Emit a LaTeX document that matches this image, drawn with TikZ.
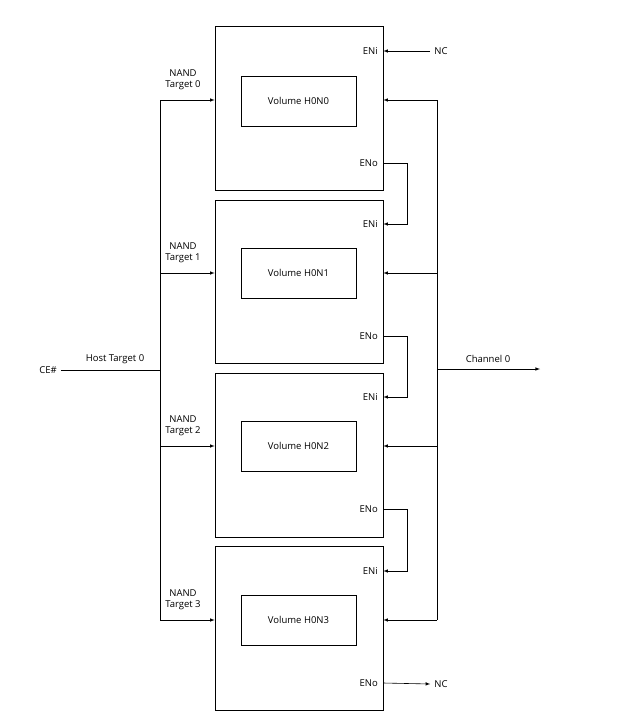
\documentclass[tikz,border=0pt]{standalone}
\usepackage{fontspec}
\setmainfont{Open Sans}
\usetikzlibrary{calc}
\begin{document}
\begin{tikzpicture}[x=1pt,y=-1pt,font=\fontsize{9.5}{11}\selectfont,
 box/.style={draw,line width=0.6pt,inner sep=0},
 ln/.style={line width=0.6pt},
 arr/.style={ln,-latex},
 lbl/.style={inner sep=0,align=center}]
\useasboundingbox (0,0) rectangle (616,723);
\foreach \i/\t/\b/\it/\ib in {0/26/190/76/126,1/200/363/248/298,2/373/537/421/471,3/546/710/595/645}{
  \node[box,minimum width=168pt,minimum height={(\b-\t)*1pt}] (B\i) at (299,{(\t+\b)/2}) {};
  \node[box,minimum width=115pt,minimum height=50pt] (V\i) at (298.5,{(\it+\ib)/2}) {Volume H0N\i};
}
\foreach \i/\y in {0/0,1/173,2/346,3/520}{
  \node[lbl,anchor=east] (ENi\i) at (378,{51+\y}) {ENi};
  \node[lbl,anchor=east] (ENo\i) at (378,{163+\y}) {ENo};
  \node[lbl] (NT\i) at (183,{80+\y}) {NAND\\Target \i};
  \coordinate (L\i) at (160,{100+\y});
  \coordinate (R\i) at (437,{100+\y});
  \draw[arr] (L\i) -- (L\i -| B\i.west);
  \draw[arr] (R\i) -- (R\i -| B\i.east);
}
\draw[ln] (L0) -- (L3);
\draw[ln] (R0) -- (R3);
\foreach \a/\b in {0/1,1/2,2/3}{
  \draw[arr] (B\a.east |- ENo\a) -- ++(24,0) |- (B\b.east |- ENi\b);
}
\node[lbl] (nc1) at (441,51) {NC};
\draw[arr] ($(nc1.west)+(-4,0)$) -- (B0.east |- nc1);
\node[lbl] (nc2) at (441,684) {NC};
\draw[arr] (B3.east |- ENo3) -- ($(nc2.west)+(-4,0)$);
\node[lbl] (ce) at (48,370) {CE\#};
\coordinate (lj) at (160,370);
\draw[ln] ($(ce.east)+(4,0)$) -- (lj);
\node[lbl] (ht) at (115,359) {Host Target 0};
\coordinate (rj) at (437,369);
\coordinate (ch) at (540,369);
\draw[arr] (rj) -- (ch);
\node[lbl] (c0) at (488,359) {Channel 0};
\end{tikzpicture}
\end{document}
